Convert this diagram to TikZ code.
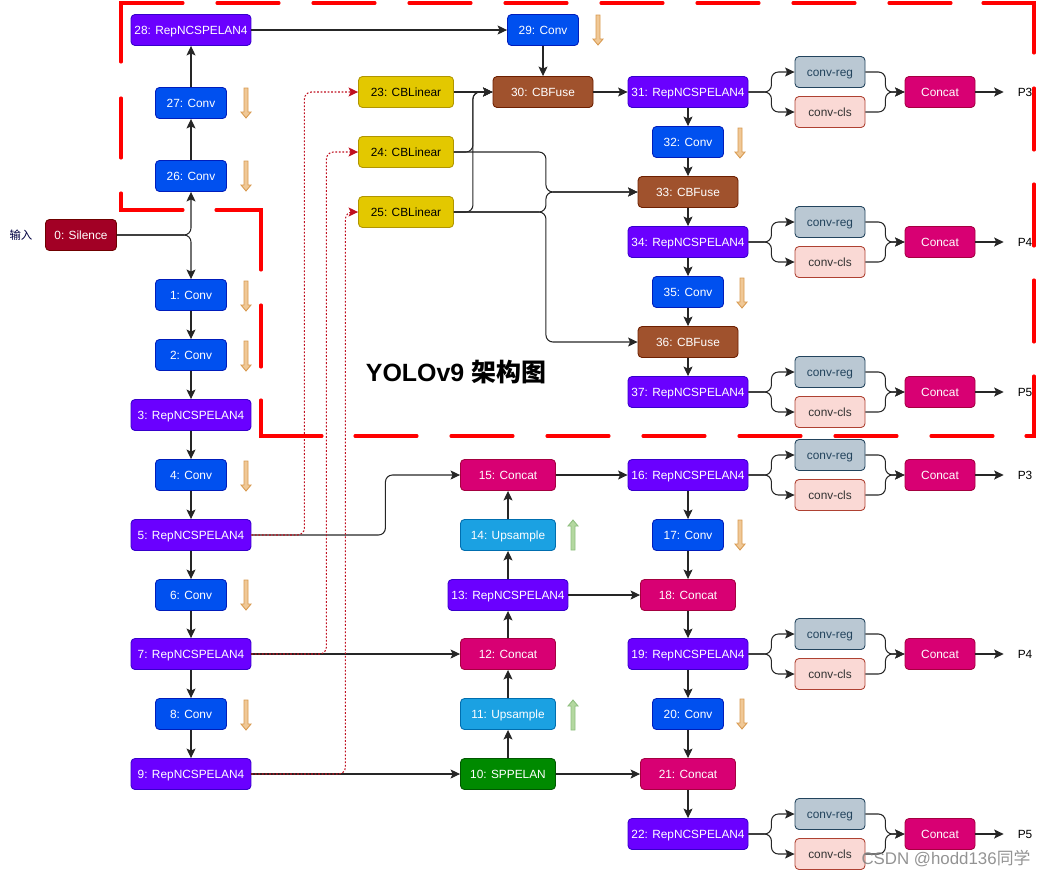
\documentclass[tikz,border=0pt]{standalone}
\usepackage{fontspec}
\usepackage{xcolor}
\usepackage{tikz}
\usetikzlibrary{arrows.meta}
\setmainfont{Liberation Sans}
\newfontfamily\cjk{Noto Sans CJK SC}

\definecolor{convfill}{HTML}{0050EF}
\definecolor{convline}{HTML}{001DBC}
\definecolor{repfill}{HTML}{6A00FF}
\definecolor{repline}{HTML}{3700CC}
\definecolor{catfill}{HTML}{D80073}
\definecolor{catline}{HTML}{A50040}
\definecolor{fusefill}{HTML}{A0522D}
\definecolor{fuseline}{HTML}{6D1F00}
\definecolor{linearfill}{HTML}{E3C800}
\definecolor{linearline}{HTML}{B09500}
\definecolor{upfill}{HTML}{1BA1E2}
\definecolor{upline}{HTML}{006EAF}
\definecolor{regfill}{HTML}{BAC8D3}
\definecolor{regline}{HTML}{23445D}
\definecolor{clsfill}{HTML}{FAD9D5}
\definecolor{clsline}{HTML}{AE4132}
\definecolor{silencefill}{HTML}{A20025}
\definecolor{silenceline}{HTML}{6F0000}
\definecolor{sppfill}{HTML}{008A00}
\definecolor{sppline}{HTML}{005700}
\definecolor{tapred}{HTML}{C01020}
\definecolor{downfill}{HTML}{F0C896}
\definecolor{downline}{HTML}{D89A50}
\definecolor{upmarkfill}{HTML}{B4D8A0}
\definecolor{upmarkline}{HTML}{8FBF7F}

\tikzset{
    box/.style={draw, rounded corners=0.08cm, line width=0.5pt, inner sep=0pt,
        minimum height=0.62cm, text height=5pt, text depth=0pt, font=\fontsize{6.75}{8}\selectfont},
    convbox/.style={box, fill=convfill, draw=convline, text=white, minimum width=1.42cm},
    repbox/.style={box, fill=repfill, draw=repline, text=white, minimum width=2.4cm},
    catbox/.style={box, fill=catfill, draw=catline, text=white, minimum width=1.9cm},
    headcat/.style={catbox, minimum width=1.4cm},
    fusebox/.style={box, fill=fusefill, draw=fuseline, text=white, minimum width=2cm},
    linearbox/.style={box, fill=linearfill, draw=linearline, text=black, minimum width=1.9cm},
    upbox/.style={box, fill=upfill, draw=upline, text=white, minimum width=1.9cm},
    regbox/.style={box, fill=regfill, draw=regline, text=regline, minimum width=1.4cm},
    clsbox/.style={box, fill=clsfill, draw=clsline, text=black!80, minimum width=1.4cm},
    plabel/.style={inner sep=0pt, minimum width=0.84cm, text height=5pt, text depth=0pt, font=\fontsize{6.75}{8}\selectfont},
    conn/.style={-{Stealth[length=0.19cm,width=0.18cm,inset=0.04cm]}, line width=0.6pt, black!85, rounded corners=0.14cm},
    tapline/.style={conn, dash pattern=on 1pt off 1pt, color=tapred, line width=0.6pt},
    frameline/.style={red, line width=1.75pt, line cap=round, line join=miter},
    downmark/.style={draw=downline, fill=downfill, line width=0.5pt},
    upmark/.style={draw=upmarkline, fill=upmarkfill, line width=0.5pt}
}

\begin{document}
\begin{tikzpicture}[x=0.02cm, y=-0.02cm]
    \useasboundingbox (0,0) rectangle (1050,876);

    % Draw the backbone column
    \node[convbox, fill=silencefill, draw=silenceline] (n0) at (81,235) {0: Silence};
    \node[convbox] (n1) at (191,295) {1: Conv};
    \node[convbox] (n2) at (191,355) {2: Conv};
    \node[repbox] (n3) at (191,415) {3: RepNCSPELAN4};
    \node[convbox] (n4) at (191,475) {4: Conv};
    \node[repbox] (n5) at (191,535) {5: RepNCSPELAN4};
    \node[convbox] (n6) at (191,595) {6: Conv};
    \node[repbox] (n7) at (191,654) {7: RepNCSPELAN4};
    \node[convbox] (n8) at (191,714) {8: Conv};
    \node[repbox] (n9) at (191,774) {9: RepNCSPELAN4};
    \node[convbox] (n26) at (191,176) {26: Conv};
    \node[convbox] (n27) at (191,103) {27: Conv};
    \node[repbox] (n28) at (191,30) {28: RepNCSPELAN4};
    \node[font=\cjk\fontsize{6.5}{8}\selectfont, text=black!75!blue] (input) at (21,235) {输入};

    % Draw the upsampling column
    \node[box, fill=sppfill, draw=sppline, text=white, minimum width=1.9cm] (n10) at (508,774) {10: SPPELAN};
    \node[upbox] (n11) at (508,714) {11: Upsample};
    \node[catbox] (n12) at (508,654) {12: Concat};
    \node[repbox] (n13) at (508,595) {13: RepNCSPELAN4};
    \node[upbox] (n14) at (508,535) {14: Upsample};
    \node[catbox] (n15) at (508,475) {15: Concat};

    % Draw the lower head column
    \node[repbox] (n16) at (688,475) {16: RepNCSPELAN4};
    \node[convbox] (n17) at (688,535) {17: Conv};
    \node[catbox] (n18) at (688,595) {18: Concat};
    \node[repbox] (n19) at (688,654) {19: RepNCSPELAN4};
    \node[convbox] (n20) at (688,714) {20: Conv};
    \node[catbox] (n21) at (688,774) {21: Concat};
    \node[repbox] (n22) at (688,834) {22: RepNCSPELAN4};

    % Draw the auxiliary branch
    \node[linearbox] (n23) at (406,92) {23: CBLinear};
    \node[linearbox] (n24) at (406,152) {24: CBLinear};
    \node[linearbox] (n25) at (406,212) {25: CBLinear};
    \node[convbox] (n29) at (543,30) {29: Conv};
    \node[fusebox] (n30) at (543,92) {30: CBFuse};
    \node[repbox] (n31) at (688,92) {31: RepNCSPELAN4};
    \node[convbox] (n32) at (688,142) {32: Conv};
    \node[fusebox] (n33) at (688,192) {33: CBFuse};
    \node[repbox] (n34) at (688,242) {34: RepNCSPELAN4};
    \node[convbox] (n35) at (688,292) {35: Conv};
    \node[fusebox] (n36) at (688,342) {36: CBFuse};
    \node[repbox] (n37) at (688,392) {37: RepNCSPELAN4};

    % Draw the straight connectors
    \foreach \a/\b in {1/2,2/3,3/4,4/5,5/6,6/7,7/8,8/9,26/27,27/28,28/29,29/30,23/30,30/31,
        31/32,32/33,33/34,34/35,35/36,36/37,9/10,10/11,11/12,12/13,13/14,14/15,7/12,15/16,
        16/17,17/18,18/19,19/20,20/21,21/22,13/18,10/21}
        \draw[conn] (n\a) -- (n\b);

    % Draw the bent connectors
    \draw[conn] (n0.east) -| (n26.south);
    \draw[conn] (n0.east) -| (n1.north);
    \draw[conn] (n5.east) -- ++(134,0) |- (n15.west);
    \draw[conn] (n24.east) -- ++(19,0) |- (n30.west);
    \draw[conn] (n25.east) -- ++(19,0) |- (n30.west);
    \draw[conn] (n24.east) -- ++(92,0) |- (n33.west);
    \draw[conn] (n25.east) -- ++(92,0) |- (n33.west);
    \draw[conn] (n25.east) -- ++(92,0) |- (n36.west);

    % Draw the dotted taps into the CBLinear boxes
    \draw[tapline] (n5.east) -- ++(53,0) |- (n23.west);
    \draw[tapline] (n7.east) -- ++(75,0) |- (n24.west);
    \draw[tapline] (n9.east) -- ++(94,0) |- (n25.west);

    % Draw the six heads
    \foreach \k/\y/\p in {31/92/P3,34/242/P4,37/392/P5,16/475/P3,19/654/P4,22/834/P5} {
        \node[regbox] (reg\k) at (830,\y-20) {conv-reg};
        \node[clsbox] (cls\k) at (830,\y+20) {conv-cls};
        \node[headcat] (cat\k) at (940,\y) {Concat};
        \node[plabel] (out\k) at (1025,\y) {\p};
        \draw[conn] (n\k.east) -- ++(23,0) |- (reg\k.west);
        \draw[conn] (n\k.east) -- ++(23,0) |- (cls\k.west);
        \draw[conn] (reg\k.east) -- ++(20,0) |- (cat\k.west);
        \draw[conn] (cls\k.east) -- ++(20,0) |- (cat\k.west);
        \draw[conn] (cat\k.east) -- (out\k.west);
    }

    % Draw the scale arrows
    \foreach \x/\y in {246/88,246/161,246/281,246/341,246/461,246/580,246/700,598/15,740/128,742/278,740/520,742/699}
        \draw[downmark, shift={(\x,\y)}] (-2,0) -- (2,0) -- (2,24) -- (5,24) -- (0,30) -- (-5,24) -- (-2,24) -- cycle;
    \foreach \x/\y in {573/520,573/700}
        \draw[upmark, shift={(\x,\y)}] (-2,30) -- (2,30) -- (2,6) -- (5,6) -- (0,0) -- (-5,6) -- (-2,6) -- cycle;

    % Draw the red frame
    \draw[frameline] (121,62) -- (121,3) -- (183,3);
    \draw[frameline] (121,98) -- (121,158);
    \draw[frameline] (121,193) -- (121,210) -- (183,210);
    \draw[frameline] (216,210) -- (261,210) -- (261,270);
    \draw[frameline] (261,305) -- (261,367);
    \draw[frameline] (261,400) -- (261,436) -- (322,436);
    \foreach \x in {217,313,...,889}
        \draw[frameline] (\x,3) -- ++(62,0);
    \draw[frameline] (983,3) -- (1034,3) -- (1034,53);
    \foreach \y in {88,184,280}
        \draw[frameline] (1034,\y) -- ++(0,62);
    \draw[frameline] (1034,376) -- (1034,436) -- (1026,436);
    \foreach \x in {355,451,...,931}
        \draw[frameline] (\x,436) -- ++(62,0);

    % Draw the title and the watermark
    \node[font=\fontsize{14.2}{16}\selectfont\bfseries] (title) at (456,372) {YOLOv9 {\cjk 架构图}};
    \node[text=black!50, opacity=0.85, font=\fontsize{9.6}{10}\selectfont] (mark) at (946,858) {CSDN @hodd136{\cjk 同学}};
\end{tikzpicture}
\end{document}
